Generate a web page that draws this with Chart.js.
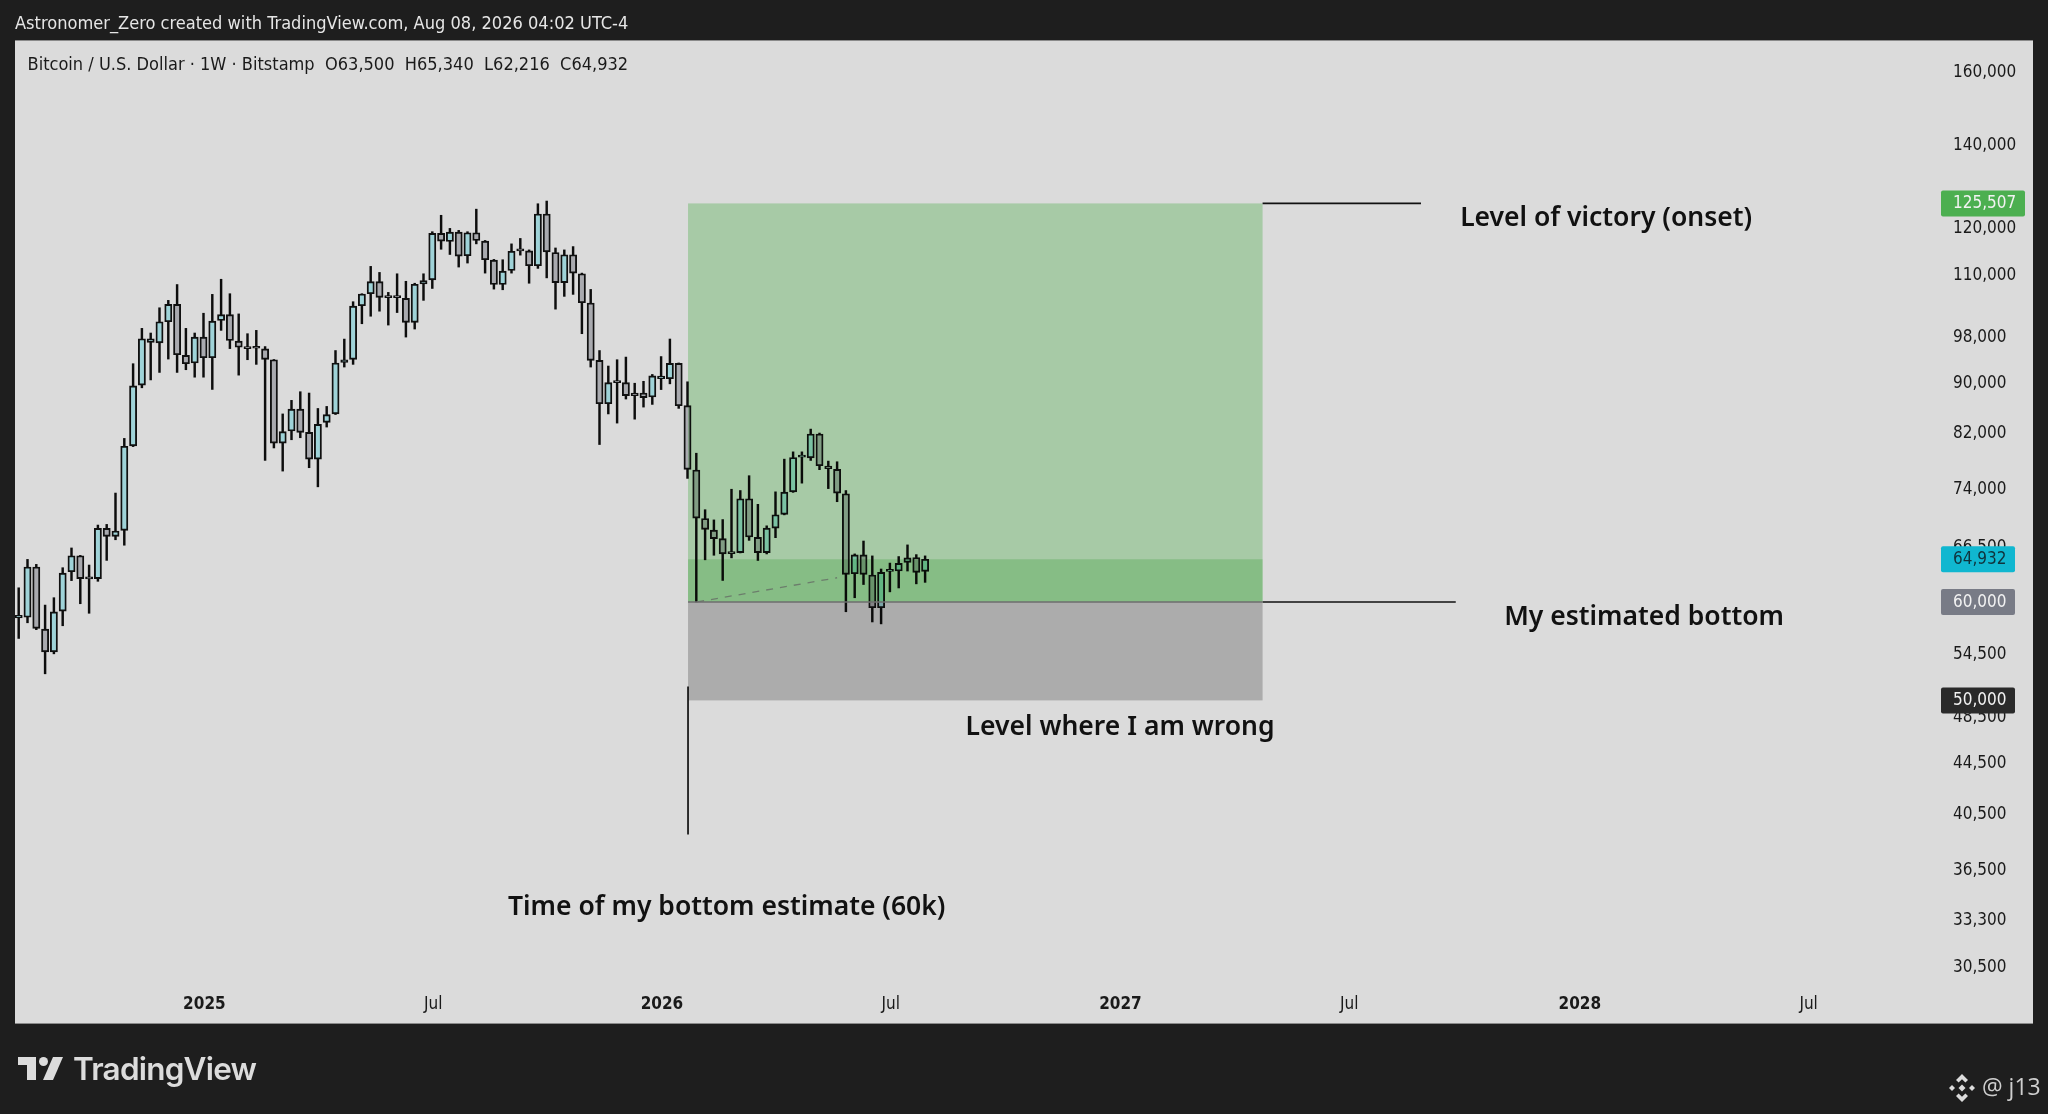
<!DOCTYPE html>
<html><head><meta charset="utf-8">
<style>
html,body{margin:0;padding:0;width:2048px;height:1114px;overflow:hidden;background:#1e1e1e;font-family:"DejaVu Sans Condensed","DejaVu Sans",sans-serif}
#panel{position:absolute;left:15px;top:41px;width:2018px;height:982px;background:#dbdbdb;box-shadow:0 -1px 0 #8a8a8a,0 1px 0 #8a8a8a}
canvas{position:absolute;left:0;top:0}
.t{position:absolute;white-space:pre;line-height:1}
#head{left:15px;top:14px;font-size:18.07px;color:#e6e6e6}
#legend{left:27.5px;top:54.5px;font-size:18.05px;color:#1a1a1a}
#brand{left:73px;top:1053px;font-family:Inter,Lato,sans-serif;font-weight:600;font-size:31.5px;letter-spacing:-.8px;color:#dcdcdc}
#wm{left:1982px;top:1075px;font-family:"Open Sans",sans-serif;font-size:23px;color:#cfcfcf}
svg{position:absolute}
</style></head><body>
<div id="panel"></div>
<canvas id="c" width="2048" height="1114"></canvas>
<div class="t" id="head">Astronomer_Zero created with TradingView.com, Aug 08, 2026 04:02 UTC-4</div>
<div class="t" id="legend">Bitcoin / U.S. Dollar · 1W · Bitstamp  O63,500  H65,340  L62,216  C64,932</div>
<svg style="left:18px;top:1057px" width="46" height="23" viewBox="0 0 46 23"><path fill="#dcdcdc" d="M0 0H18V23H9V8H0Z"/><circle cx="25.5" cy="4.5" r="4.5" fill="#dcdcdc"/><path fill="#dcdcdc" d="M35 0H45L35 23H25Z"/></svg>
<div class="t" id="brand">TradingView</div>
<svg style="left:1948px;top:1074px" width="28" height="28" viewBox="0 0 28 28"><g fill="#dcdcdc"><path d="M14 0l6 6-2.6 2.6L14 5.2l-3.4 3.4L8 6z"/><path d="M14 28l6-6-2.6-2.6L14 22.8l-3.4-3.4L8 22z"/><path d="M14 10.5l3.5 3.5-3.5 3.5-3.5-3.5z"/><path d="M4 11l3 3-3 3-3-3z"/><path d="M24 11l3 3-3 3-3-3z"/></g></svg>
<div class="t" id="wm">@ j13</div>
<script src="https://cdn.jsdelivr.net/npm/chart.js@4"></script>
<script>
const opens=[58254,58324,64005,57060,54701,58981,63450,65355,62735,62656,68758,67745,68504,80104,89636,97011,96950,100805,104101,94711,93389,97990,94309,101049,102151,97255,96214,96095,95862,93964,80511,82340,85744,82137,78174,83661,84988,93504,94021,103841,106181,108586,105596,105596,105271,100682,108131,108928,118730,116963,119024,113907,118877,117037,113008,108001,110852,115153,114945,111831,123081,114599,108391,114115,110173,104361,93849,86612,90230,90068,88340,88340,87692,90709,90709,93321,86294,76604,70021,68540,67456,65746,65746,72638,67623,65746,68790,70554,73570,78445,78351,81880,77171,76699,73304,63222,65457,63065,59363,63496,63535,64555,65143,63500];
const closes=[58535,64005,57131,54701,58906,63291,65355,62656,62616,68758,67745,68420,80053,89528,97684,97684,100805,104101,94826,93274,97990,94309,100927,102151,97378,96156,95919,95976,94021,80511,82238,85744,82137,78174,83356,84880,93389,93964,103776,106116,108586,105466,105401,105401,100682,108066,108789,118730,117037,119024,113838,118877,117184,113077,108001,110713,114876,114945,111831,123081,114738,108391,114115,110311,104426,93849,86612,90068,90068,87908,87908,87584,91204,91163,93321,86294,76699,70066,68624,67456,65579,65621,72638,67664,65746,68790,70510,73526,78398,78587,81880,77218,76793,73393,63143,65457,63143,59363,63378,63614,64438,65104,63378,64932];
const highs=[61592,64918,64323,59652,60473,63926,66308,65400,64243,69180,69264,73404,81222,93274,99581,98724,103451,104881,108001,99581,98724,102411,106051,109063,106181,102281,98602,99213,96279,94000,84988,87152,88556,88340,85852,86176,95574,97623,104621,106181,111693,110450,106441,110173,108651,108261,110173,119098,122778,119834,119392,119098,124178,117184,113146,113077,116448,117625,115153,125431,126057,115568,115153,115862,110311,107026,95574,92871,93964,94424,89960,90284,91434,94514,97634,93400,90200,79024,71176,69844,69888,73925,73748,75802,71886,69082,73570,78162,79225,79225,82633,82030,77879,77784,73748,65579,67164,65339,63771,64477,65261,66685,65496,65340];
const lows=[56078,57728,57000,52523,54503,57412,62418,59802,58755,62338,64800,67323,66646,80000,89204,90514,91779,94079,91779,92239,90974,90974,88934,99213,95919,91319,93964,93159,77983,79799,76454,81020,81324,76932,74257,82950,84900,92699,93159,100437,101845,102801,100192,102541,97990,99458,104881,107221,115291,114184,111555,112385,116448,110311,107091,106961,110311,114046,108261,111278,109343,103191,105661,106051,98602,92699,80307,84988,83560,87368,84169,86072,86500,88911,89860,85867,75424,60000,64869,65418,62437,65104,65700,67247,64790,65579,67581,70500,73500,74764,77973,76652,74014,72238,58920,60468,61967,57818,57610,61132,61575,63535,62045,62216];
const priceTicks=[160000,140000,120000,110000,98000,90000,82000,74000,66500,54500,48500,44500,40500,36500,33300,30500];
const timeTicks=[21.1,47.1,73.1,99.1,125.2,151.2,177.4,203.4];
const timeLabels=['2025','Jul','2026','Jul','2027','Jul','2028','Jul'];
const yearLabels=['2025','2026','2027','2028'];
const target=125507, bottom=60000, wrong=50000, last=64932, boxStart=76.06, boxEnd=141.35;
const notes=[['Level of victory (onset)',163.8,122070],['My estimated bottom',168.8,58250],['Level where I am wrong',107.6,47560],['Time of my bottom estimate (60k)',55.6,34080]];
const tags=[[target,'125,507','#4caf50','#f2f2f2',84],[last,'64,932','#10b7d0','#10333c',74],[bottom,'60,000','#787b86','#f2f2f2',74],[wrong,'50,000','#2a2a2a','#f2f2f2',74]];

const FONT='"DejaVu Sans Condensed","DejaVu Sans",sans-serif';
const idx=opens.map((_,i)=>i);
const line=(pts,color,w,dash)=>({type:'line',data:pts,borderColor:color,borderWidth:w,borderDash:dash||[],pointRadius:0,order:1,clip:false});
const overlay={id:'overlay',
 beforeDraw(ch){const {ctx}=ch;ctx.save();ctx.fillStyle='#dbdbdb';ctx.fillRect(15,41,2018,982);ctx.restore()},
 afterDatasetDraw(ch,args){ if(args.index!==1)return;
  const {ctx,scales:{x,y}}=ch, l=x.getPixelForValue(boxStart), r=x.getPixelForValue(boxEnd);
  const box=(a,b,c)=>{const t=y.getPixelForValue(a),u=y.getPixelForValue(b);ctx.fillStyle=c;ctx.fillRect(l,t,r-l,u-t)};
  ctx.save();
  ctx.globalCompositeOperation='multiply';
  box(target,bottom,'rgb(195,235,193)');
  box(last,bottom,'rgb(205,239,204)');
  box(bottom,wrong,'rgb(200,200,200)');
  ctx.restore();
 },
 afterDraw(ch){
  const {ctx,scales:{x,y}}=ch; ctx.save();
  ctx.textBaseline='middle'; ctx.textAlign='left'; ctx.fillStyle='#111';
  ctx.font='600 26.5px "Noto Sans",'+FONT;
  notes.forEach(n=>ctx.fillText(n[0],x.getPixelForValue(n[1]),y.getPixelForValue(n[2])));
  ctx.font='17px '+FONT;
  tags.forEach(t=>{const c=y.getPixelForValue(t[0]);ctx.fillStyle=t[2];ctx.beginPath();ctx.roundRect(1941,c-13,t[4],26,2);ctx.fill();
   ctx.fillStyle=t[3];ctx.fillText(t[1],1953,c+.5)});
  ctx.restore();
 }};
new Chart(document.getElementById('c'),{
 type:'bar',
 data:{datasets:[
  {label:'wick',data:idx.map(i=>({x:i,y:[lows[i],highs[i]]})),backgroundColor:'#0d0d0d',barThickness:1.8,grouped:false,order:3,borderWidth:0},
  {label:'body',data:idx.map(i=>({x:i,y:[opens[i],closes[i]]})),
   backgroundColor:idx.map(i=>closes[i]>=opens[i]?'#9fd3d8':'#a9aaaf'),borderColor:'#101010',borderWidth:1.9,borderSkipped:false,minBarLength:2,barThickness:7.2,grouped:false,order:2},
  line([{x:boxStart,y:bottom},{x:boxEnd,y:bottom}],'#6e6e6e',1.4),
  line([{x:boxEnd,y:bottom},{x:163.3,y:bottom}],'#111',1.6),
  line([{x:boxEnd,y:target},{x:159.35,y:target}],'#111',1.8),
  line([{x:boxStart,y:51300},{x:boxStart,y:39000}],'#111',1.7),
  line([{x:77.1,y:bottom},{x:93,y:62750}],'#6c7d6c',1.3,[7,7])
 ]},
 plugins:[overlay],
 options:{responsive:false,animation:false,devicePixelRatio:1,
  layout:{padding:{left:15,right:15,top:41,bottom:91}},
  plugins:{legend:{display:false},tooltip:{enabled:false}},
  scales:{
   x:{type:'linear',offset:false,min:-0.42,max:217.76,
    grid:{display:false},border:{display:false},
    afterBuildTicks(s){s.ticks=timeTicks.map(v=>({value:v}))},
    afterFit(s){s.height=38},
    ticks:{autoSkip:false,maxRotation:0,padding:1,color:'#1a1a1a',
     callback:(v,i)=>timeLabels[i],
     font:c=>({family:FONT,size:17,weight:yearLabels.includes(timeLabels[c.index])?'bold':'normal'})}},
   y:{type:'logarithmic',position:'right',min:29517,max:169549,
    grid:{display:false},border:{display:false},
    afterBuildTicks(s){s.ticks=priceTicks.map(v=>({value:v}));
     const base=Object.getPrototypeOf(s).getPixelForTick;
     s.getPixelForTick=function(i){return base.call(this,i)+0.7}},
    afterFit(s){s.width=98},
    ticks:{autoSkip:false,padding:10,color:'#1a1a1a',font:{family:FONT,size:17},
     callback:v=>Number(v).toLocaleString('en-US')}}
  }}
});
</script></body></html>
